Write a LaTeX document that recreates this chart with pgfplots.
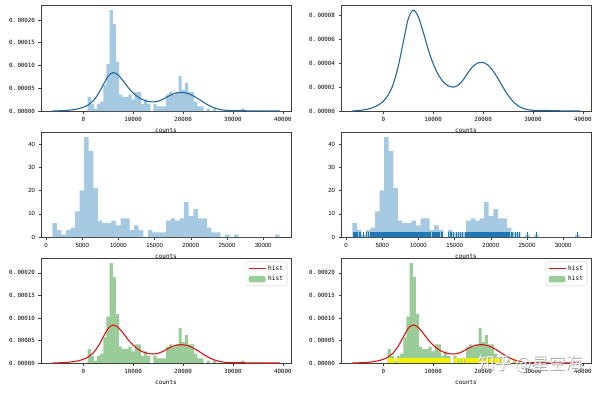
\documentclass[border=0pt]{standalone}
\usepackage{pgfplots}
\usepackage{pgfplotstable}
\pgfplotsset{compat=1.18}
\usepackage{fontspec}
\newfontfamily\monof{DejaVu Sans Mono}
\newfontfamily\sansf{Liberation Sans}
\newfontfamily\cjk{Noto Sans CJK SC}
\definecolor{c1}{HTML}{1F77B4}
\definecolor{kline}{HTML}{2468A0}
\definecolor{barblue}{HTML}{A5C9E1}
\definecolor{gbar}{HTML}{008000}
\definecolor{rline}{HTML}{DD1515}
\definecolor{yrug}{HTML}{F2F200}
\newcommand{\dl}[1]{0.\kern0.25em#1}

\pgfplotstableread{
x c d
880 6 3.093e-5
1508 3 1.547e-5
2136 1 5.155e-6
2763 3 1.547e-5
3391 4 2.062e-5
4019 11 5.670e-5
4647 20 1.031e-4
5275 43 2.2165e-4
5902 37 1.9074e-4
6530 21 1.0826e-4
7158 7 3.609e-5
7786 6 3.093e-5
8414 6 3.093e-5
9041 7 3.609e-5
9669 5 2.578e-5
10297 8 4.124e-5
10925 8 4.124e-5
11553 3 1.547e-5
12180 5 2.578e-5
12808 3 1.547e-5
13436 0 0
14064 3 1.547e-5
14692 2 1.031e-5
15319 2 1.031e-5
15947 2 1.031e-5
16575 7 3.609e-5
17203 8 4.124e-5
17831 7 3.609e-5
18458 8 4.124e-5
19086 15 7.733e-5
19714 9 4.640e-5
20342 12 6.186e-5
20970 8 4.124e-5
21597 8 4.124e-5
22225 4 2.062e-5
22853 2 1.031e-5
23481 2 1.031e-5
24109 0 0
24736 1 5.155e-6
25364 0 0
25992 1 5.155e-6
26620 0 0
27248 0 0
27875 0 0
28503 0 0
29131 0 0
29759 0 0
30387 0 0
31014 0 0
31642 1 5.155e-6
32270 0 0
}\hist

\pgfplotstableread{
x y
-6200 0
-5000 0.0000004
-4000 0.0000009
-3000 0.0000017
-2000 0.0000030
-1000 0.0000050
0 0.0000082
1000 0.0000135
2000 0.0000225
3000 0.0000375
4000 0.0000575
5000 0.0000770
6000 0.0000843
7000 0.0000790
8000 0.0000660
9000 0.0000515
10000 0.0000395
11000 0.0000305
12000 0.0000245
13000 0.0000210
14000 0.0000200
15000 0.0000215
16000 0.0000260
17000 0.0000322
18000 0.0000375
19000 0.0000402
20000 0.0000405
21000 0.0000383
22000 0.0000335
23000 0.0000270
24000 0.0000198
25000 0.0000132
26000 0.0000080
27000 0.0000044
28000 0.0000022
29000 0.0000011
30000 0.0000006
31000 0.0000005
32000 0.0000005
33000 0.0000004
34000 0.0000003
35000 0.0000002
36500 0.0000001
38000 0.00000003
39400 0
}\kde

\pgfplotstableread{
x hc hd
943 2.26 1.16e-5
1069 2.26 1.16e-5
1194 2.26 1.16e-5
1320 2.26 1.16e-5
1446 2.26 1.16e-5
1613 2.26 1.16e-5
1822 2.26 1.16e-5
2031 2.26 1.16e-5
2450 2.26 1.16e-5
2868 2.26 1.16e-5
3077 2.26 1.16e-5
3286 2.26 1.16e-5
3470 2.26 1.16e-5
3627 2.26 1.16e-5
3784 2.26 1.16e-5
3941 2.26 1.16e-5
4082 2.26 1.16e-5
4208 2.26 1.16e-5
4333 2.26 1.16e-5
4459 2.26 1.16e-5
4585 2.26 1.16e-5
4710 2.26 1.16e-5
4836 2.26 1.16e-5
4961 2.26 1.16e-5
5087 2.26 1.16e-5
5213 2.26 1.16e-5
5338 2.26 1.16e-5
5464 2.26 1.16e-5
5589 2.26 1.16e-5
5715 2.26 1.16e-5
5840 2.26 1.16e-5
5965 2.26 1.16e-5
6091 2.26 1.16e-5
6216 2.26 1.16e-5
6342 2.26 1.16e-5
6468 2.26 1.16e-5
6593 2.26 1.16e-5
6719 2.26 1.16e-5
6844 2.26 1.16e-5
6970 2.26 1.16e-5
7096 2.26 1.16e-5
7221 2.26 1.16e-5
7347 2.26 1.16e-5
7472 2.26 1.16e-5
7598 2.26 1.16e-5
7724 2.26 1.16e-5
7849 2.26 1.16e-5
7975 2.26 1.16e-5
8100 2.26 1.16e-5
8226 2.26 1.16e-5
8352 2.26 1.16e-5
8477 2.26 1.16e-5
8603 2.26 1.16e-5
8728 2.26 1.16e-5
8854 2.26 1.16e-5
8980 2.26 1.16e-5
9104 2.26 1.16e-5
9230 2.26 1.16e-5
9355 2.26 1.16e-5
9481 2.26 1.16e-5
9607 2.26 1.16e-5
9732 2.26 1.16e-5
9858 2.26 1.16e-5
9983 2.26 1.16e-5
10109 2.26 1.16e-5
10235 2.26 1.16e-5
10360 2.26 1.16e-5
10486 2.26 1.16e-5
10611 2.26 1.16e-5
10737 2.26 1.16e-5
10863 2.26 1.16e-5
10988 2.26 1.16e-5
11114 2.26 1.16e-5
11239 2.26 1.16e-5
11365 2.26 1.16e-5
11491 2.26 1.16e-5
11658 2.26 1.16e-5
11867 2.26 1.16e-5
12076 2.26 1.16e-5
12243 2.26 1.16e-5
12369 2.26 1.16e-5
12494 2.26 1.16e-5
12620 2.26 1.16e-5
12746 2.26 1.16e-5
12913 2.26 1.16e-5
13122 2.26 1.16e-5
13331 2.26 1.16e-5
14169 2.26 1.16e-5
14378 2.26 1.16e-5
14587 2.26 1.16e-5
14849 2.26 1.16e-5
15163 2.26 1.16e-5
15476 2.26 1.16e-5
15790 2.26 1.16e-5
16104 2.26 1.16e-5
16418 2.26 1.16e-5
16638 2.26 1.16e-5
16764 2.26 1.16e-5
16889 2.26 1.16e-5
17015 2.26 1.16e-5
17141 2.26 1.16e-5
17266 2.26 1.16e-5
17392 2.26 1.16e-5
17517 2.26 1.16e-5
17643 2.26 1.16e-5
17769 2.26 1.16e-5
17894 2.26 1.16e-5
18020 2.26 1.16e-5
18145 2.26 1.16e-5
18271 2.26 1.16e-5
18397 2.26 1.16e-5
18521 2.26 1.16e-5
18647 2.26 1.16e-5
18772 2.26 1.16e-5
18898 2.26 1.16e-5
19024 2.26 1.16e-5
19149 2.26 1.16e-5
19275 2.26 1.16e-5
19400 2.26 1.16e-5
19526 2.26 1.16e-5
19652 2.26 1.16e-5
19777 2.26 1.16e-5
19903 2.26 1.16e-5
20028 2.26 1.16e-5
20154 2.26 1.16e-5
20280 2.26 1.16e-5
20405 2.26 1.16e-5
20531 2.26 1.16e-5
20656 2.26 1.16e-5
20782 2.26 1.16e-5
20908 2.26 1.16e-5
21033 2.26 1.16e-5
21159 2.26 1.16e-5
21284 2.26 1.16e-5
21410 2.26 1.16e-5
21536 2.26 1.16e-5
21660 2.26 1.16e-5
21786 2.26 1.16e-5
21911 2.26 1.16e-5
22037 2.26 1.16e-5
22163 2.26 1.16e-5
22304 2.26 1.16e-5
22461 2.26 1.16e-5
22618 2.26 1.16e-5
22775 2.26 1.16e-5
23010 2.26 1.16e-5
23324 2.26 1.16e-5
23638 2.26 1.16e-5
23952 2.26 1.16e-5
25050 2.26 1.16e-5
26306 2.26 1.16e-5
31956 2.26 1.16e-5
}\rug

\pgfplotsset{
  base/.style={
    scale only axis, width=250pt, anchor=north west,
    axis line style={draw=black!75, line width=0.6pt},
    tick align=outside, xtick pos=bottom, ytick pos=left,
    major tick length=2.5pt,
    tick style={black!75, line width=0.5pt},
    tick label style={font=\monof\fontsize{5.8}{6.5}\selectfont, text=black},
    axis background/.style={fill=white},
    xlabel={counts},
    xlabel style={font=\monof\fontsize{6}{7}\selectfont, at={(axis description cs:0.5,0)}, anchor=center, yshift=-19pt},
    scaled x ticks=false, scaled y ticks=false,
  },
  dens/.style={base, xmin=-8480, xmax=41630, ymin=0, ymax=0.0002328,
    xtick={0,10000,20000,30000,40000}, xticklabels={0,10000,20000,30000,40000},
    ytick={0,0.00005,0.0001,0.00015,0.0002},
    yticklabels={\dl{00000},\dl{00005},\dl{00010},\dl{00015},\dl{00020}}},
  cnt/.style={base, xmin=-690, xmax=33840, ymin=0, ymax=45.15,
    xtick={0,5000,10000,15000,20000,25000,30000},
    xticklabels={0,5000,10000,15000,20000,25000,30000},
    ytick={0,10,20,30,40}, yticklabels={0,10,20,30,40},
    tick label style={font=\sansf\fontsize{6}{7}\selectfont, text=black}},
  leg/.style={
    legend style={at={(0.985,0.965)}, anchor=north east,
      font=\monof\fontsize{6.2}{8}\selectfont, draw=black!20, rounded corners=1.5pt,
      fill=white, fill opacity=0.8, text opacity=1, inner xsep=2pt, inner ysep=1.5pt,
      row sep=0.5pt},
    legend cell align=left, reverse legend},
}

\begin{document}
\begin{tikzpicture}
\useasboundingbox (0,0) rectangle (600pt,-392pt);

% Row 1 left
\begin{axis}[dens, at={(41pt,-5pt)}, height=106pt]
\addplot[ybar interval, fill=barblue, draw=none] table[x=x, y=d] {\hist};
\addplot[kline, line width=1.1pt, smooth] table[x=x, y=y] {\kde};
\end{axis}

% Row 1 right
\begin{axis}[base, at={(341pt,-5pt)}, height=106pt,
  xmin=-8480, xmax=41630, ymin=0, ymax=0.0000886,
  xtick={0,10000,20000,30000,40000}, xticklabels={0,10000,20000,30000,40000},
  ytick={0,0.00002,0.00004,0.00006,0.00008},
  yticklabels={\dl{00000},\dl{00002},\dl{00004},\dl{00006},\dl{00008}}]
\addplot[kline, line width=1.1pt, smooth] table[x=x, y=y] {\kde};
\end{axis}

% Row 2 left
\begin{axis}[cnt, at={(41pt,-132pt)}, height=105pt]
\addplot[ybar interval, fill=barblue, draw=none] table[x=x, y=c] {\hist};
\end{axis}

% Row 2 right
\begin{axis}[cnt, at={(341pt,-132pt)}, height=105pt]
\addplot[ybar interval, fill=barblue, draw=none] table[x=x, y=c] {\hist};
\addplot[ycomb, c1, line width=0.55pt, no marks] table[x=x, y=hc] {\rug};
\end{axis}

% Row 3 left
\begin{axis}[dens, leg, at={(41pt,-258pt)}, height=105pt,
  legend image code/.code={\draw[#1] (0pt,0pt) -- (17pt,0pt);}]
\addplot[ybar interval, fill=gbar, fill opacity=0.4, draw=none, area legend,
  legend image code/.code={\fill[gbar, fill opacity=0.4] (0pt,-3.3pt) rectangle (17pt,3.3pt);}]
  table[x=x, y=d] {\hist};
\addlegendentry{hist}
\addplot[rline, line width=1.1pt, smooth] table[x=x, y=y] {\kde};
\addlegendentry{hist}
\end{axis}

% Row 3 right
\begin{axis}[dens, leg, at={(341pt,-258pt)}, height=105pt,
  legend image code/.code={\draw[#1] (0pt,0pt) -- (17pt,0pt);}]
\addplot[ybar interval, fill=gbar, fill opacity=0.4, draw=none, area legend,
  legend image code/.code={\fill[gbar, fill opacity=0.4] (0pt,-3.3pt) rectangle (17pt,3.3pt);}]
  table[x=x, y=d] {\hist};
\addlegendentry{hist}
\addplot[ycomb, yrug, line width=0.7pt, no marks, forget plot] table[x=x, y=hd] {\rug};
\addplot[rline, line width=1.1pt, smooth] table[x=x, y=y] {\kde};
\addlegendentry{hist}
\end{axis}

% watermark
\node[text=black!45, opacity=0.8] at (530.6pt,-364.6pt) {\cjk\fontsize{17}{17}\selectfont 知乎 @星空海};
\node[text=white, opacity=0.9] at (530pt,-364pt) {\cjk\fontsize{17}{17}\selectfont 知乎 @星空海};
\end{tikzpicture}
\end{document}
